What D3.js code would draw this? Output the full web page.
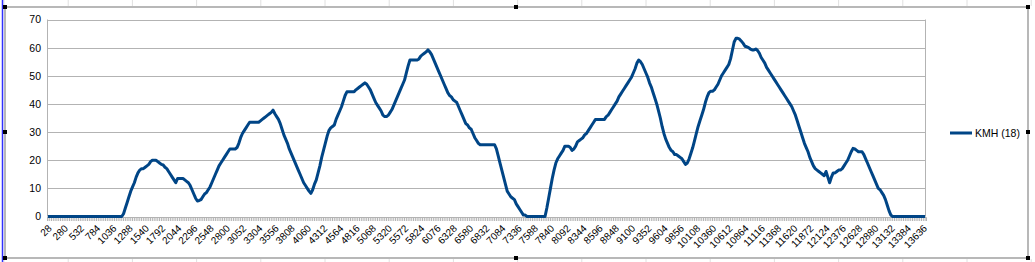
<!DOCTYPE html>
<html>
<head>
<meta charset="utf-8">
<script src="https://cdn.jsdelivr.net/npm/d3@7"></script>
<style>
  body { margin: 0; background: #fff; }
  svg { display: block; font-family: "Liberation Sans", Arial, sans-serif; }
</style>
</head>
<body>
<svg id="chart" width="1035" height="262"></svg>
<script>
// === DATA ===
const seriesName = "KMH (18)";
const firstCategory = 28;
const categoryStep = 28;
const labelEvery = 9;
const yTicks = [0, 10, 20, 30, 40, 50, 60, 70];

// speed values, one per category (28, 56, 84, ...)
const kmh = [
  0, 0, 0, 0, 0, 0, 0, 0, 0, 0,
  0, 0, 0, 0, 0, 0, 0, 0, 0, 0,
  0, 0, 0, 0, 0, 0, 0, 0, 0, 0,
  0, 0, 0, 0, 0, 0, 0, 0, 0, 0,
  0, 0, 1, 3, 5, 7, 9, 10.5, 12, 14,
  15.5, 16.5, 17, 17, 17.5, 18, 18.5, 19.5, 20, 20,
  20, 19.5, 19, 18.5, 18.3, 17.5, 17, 16, 15, 14,
  13, 12, 13.5, 13.5, 13.5, 13.5, 13, 12.5, 12, 11,
  9.5, 8, 6.5, 5.5, 5.7, 6, 7, 8, 8.5, 9.5,
  10.5, 12, 13.5, 15, 16.5, 18, 19, 20, 21, 22,
  23, 24, 24, 24, 24, 24.5, 26, 28, 29.5, 30.5,
  31.5, 32.5, 33.5, 33.5, 33.5, 33.5, 33.5, 33.5, 34, 34.5,
  35, 35.5, 36, 36.5, 37, 37.8, 36.5, 35.5, 34.5, 33,
  31, 29, 27.5, 26, 24, 22.5, 21, 19.5, 18, 16.5,
  15, 13.5, 12, 11, 10, 9, 8.2, 9.5, 11.5, 13,
  15.5, 18, 21, 23.5, 26, 28.5, 30.5, 31.5, 32, 32.5,
  34.5, 36, 37.5, 39, 41, 43, 44.3, 44.3, 44.3, 44.3,
  44.3, 45, 45.5, 46, 46.5, 47, 47.5, 47, 46, 45,
  43.5, 42, 40.5, 39.5, 38.5, 37.5, 36, 35.5, 35.5, 36,
  37, 38, 39.5, 41, 42.5, 44, 45.5, 47, 48.5, 51,
  53.5, 55.6, 55.6, 55.6, 55.6, 55.6, 56, 57, 57.5, 58,
  58.5, 59.2, 58.5, 57.5, 56, 54.5, 53, 51.5, 50, 48.5,
  47, 45.5, 44, 43, 42.5, 41.5, 41, 40.5, 39, 37.5,
  36, 34.5, 33, 32.5, 31.5, 31, 29.5, 28, 27, 26,
  25.5, 25.5, 25.5, 25.5, 25.5, 25.5, 25.5, 25.5, 25.5, 24,
  21.5, 19, 16.5, 14, 11.5, 9, 8, 7, 6.5, 6,
  4.5, 3.5, 2.5, 1.5, 0.5, 0.5, 0, 0, 0, 0,
  0, 0, 0, 0, 0, 0, 0, 3, 6.5, 10,
  13.5, 16.5, 19, 20.5, 21.5, 22.5, 23.5, 25, 25, 25,
  24.5, 23.5, 24, 25, 26.5, 27, 27.5, 28, 29, 29.5,
  30.5, 31.5, 32.5, 33.5, 34.5, 34.5, 34.5, 34.5, 34.5, 34.5,
  35.5, 36, 37, 38, 39, 40, 41, 42.5, 43.5, 44.5,
  45.5, 46.5, 47.5, 48.5, 49.5, 51, 52.5, 54.5, 55.6, 55,
  54, 52.5, 51, 49.5, 47.5, 46, 44, 42, 40, 37.5,
  35, 32, 29.5, 27.5, 26, 24.5, 23.5, 23, 22, 22,
  21.5, 21, 20.5, 19.5, 18.5, 19, 20.5, 22.5, 24.5, 27,
  29.5, 32, 34, 36, 38, 40.5, 42.5, 44, 44.5, 44.5,
  45, 46, 47, 48.5, 50, 51, 52, 53, 54, 56,
  59, 62, 63.3, 63.3, 63, 62.3, 61.5, 60.5, 60.3, 60,
  59.5, 59.2, 59.2, 59.5, 59, 58, 56.5, 55.5, 54.5, 53,
  52, 51, 50, 49, 48, 47, 46, 45, 44, 43,
  42, 41, 40, 39, 37.5, 36, 34, 32, 30, 28,
  26, 24.5, 23, 21, 19.5, 18, 17, 16.5, 16, 15.5,
  15, 14.5, 16, 14, 12, 14, 15.5, 15.5, 16, 16.5,
  16.5, 17, 18, 19, 20, 21.5, 23, 24.2, 24, 23.5,
  23, 23, 23, 22, 20.5, 19, 17.5, 16, 14.5, 13,
  11.5, 10, 9.5, 8.5, 7.5, 6, 4, 2, 0.5, 0,
  0, 0, 0, 0, 0, 0, 0, 0, 0, 0,
  0, 0, 0, 0, 0, 0, 0, 0
];

const categories = kmh.map((d, i) => firstCategory + i * categoryStep);

// === LAYOUT ===
const svg = d3.select("#chart");
const plot = { left: 47, right: 926, top: 19.5, bottom: 216.5 };
const lineColor = "#004586";
const gridColor = "#b3b3b3";

// spreadsheet backdrop: faint cell lines outside the chart frame
const cellLines = d3.range(4, 1035, 64.2);
svg.selectAll("line.cell-top")
  .data(cellLines)
  .join("line")
  .attr("x1", d => d).attr("x2", d => d)
  .attr("y1", 0).attr("y2", 6)
  .attr("stroke", "#e0e0e0");
svg.selectAll("line.cell-bot")
  .data(cellLines)
  .join("line")
  .attr("x1", d => d).attr("x2", d => d)
  .attr("y1", 259).attr("y2", 262)
  .attr("stroke", "#e0e0e0");

// chart frame
svg.append("rect")
  .attr("x", 5).attr("y", 7)
  .attr("width", 1023).attr("height", 251)
  .attr("fill", "#fff")
  .attr("stroke", "#b8b8b8")
  .attr("stroke-width", 2);

svg.append("line")
  .attr("x1", 2.5).attr("x2", 2.5)
  .attr("y1", 0).attr("y2", 262)
  .attr("stroke", "#3030ff")
  .attr("stroke-width", 1.5);

// === SCALES ===
const x = d3.scaleBand()
  .domain(categories)
  .range([plot.left, plot.right])
  .paddingInner(0).paddingOuter(0);

const y = d3.scaleLinear()
  .domain([0, 70])
  .range([plot.bottom, plot.top]);

// === GRID ===
svg.append("g")
  .selectAll("line")
  .data(yTicks)
  .join("line")
  .attr("x1", plot.left).attr("x2", plot.right)
  .attr("y1", d => Math.round(y(d)) + 0.5)
  .attr("y2", d => Math.round(y(d)) + 0.5)
  .attr("stroke", gridColor);

svg.append("line")
  .attr("x1", plot.left + 0.5).attr("x2", plot.left + 0.5)
  .attr("y1", plot.top).attr("y2", plot.bottom)
  .attr("stroke", gridColor);
svg.append("line")
  .attr("x1", plot.right - 0.5).attr("x2", plot.right - 0.5)
  .attr("y1", plot.top).attr("y2", plot.bottom)
  .attr("stroke", gridColor);

// === AXES ===
const yAxis = d3.axisLeft(y).tickValues(yTicks).tickSize(0).tickPadding(6);
svg.append("g")
  .attr("transform", `translate(${plot.left},0)`)
  .call(yAxis)
  .call(g => g.select(".domain").remove())
  .call(g => g.selectAll("text")
    .attr("font-size", 10.5)
    .attr("fill", "#000"));

const xAxis = d3.axisBottom(x).tickSize(4).tickFormat("");
svg.append("g")
  .attr("transform", `translate(0,${plot.bottom + 0.5})`)
  .call(xAxis)
  .call(g => g.select(".domain").attr("stroke", gridColor))
  .call(g => g.selectAll(".tick line").attr("stroke", gridColor));

svg.append("g")
  .selectAll("text")
  .data(categories.filter((d, i) => i % labelEvery === 0))
  .join("text")
  .attr("transform", d => `translate(${x(d) + x.bandwidth() / 2 + 2},${plot.bottom + 10}) rotate(-45)`)
  .attr("text-anchor", "end")
  .attr("dy", "0.35em")
  .attr("font-size", 10)
  .attr("fill", "#000")
  .text(d => d);

// === LINE ===
const line = d3.line()
  .x((d, i) => x(categories[i]) + x.bandwidth() / 2)
  .y(d => y(d));

svg.append("path")
  .datum(kmh)
  .attr("fill", "none")
  .attr("stroke", lineColor)
  .attr("stroke-width", 3)
  .attr("stroke-linejoin", "round")
  .attr("d", line);

// === LEGEND ===
svg.append("line")
  .attr("x1", 950).attr("x2", 972)
  .attr("y1", 133).attr("y2", 133)
  .attr("stroke", lineColor)
  .attr("stroke-width", 3);
svg.append("text")
  .attr("x", 975).attr("y", 133)
  .attr("dy", "0.35em")
  .attr("font-size", 10.5)
  .attr("fill", "#000")
  .text(seriesName);

// selection handles
const handles = [[5, 7], [516, 7], [1028, 7], [5, 132], [1028, 132], [5, 258], [516, 258], [1028, 258]];
svg.selectAll("rect.handle")
  .data(handles)
  .join("rect")
  .attr("x", d => d[0] - 2).attr("y", d => d[1] - 2)
  .attr("width", 4).attr("height", 4)
  .attr("fill", "#000");
</script>
</body>
</html>
